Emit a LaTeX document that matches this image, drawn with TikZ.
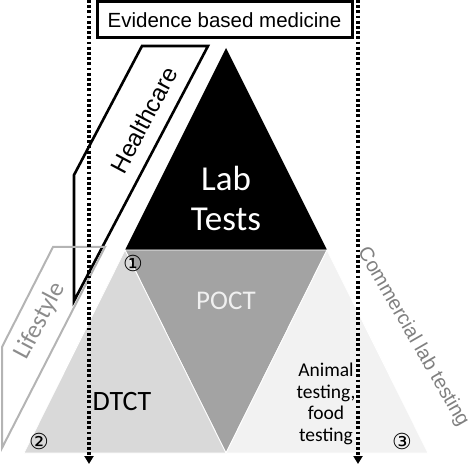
\documentclass[tikz,border=0pt]{standalone}
\usepackage{fontspec}
\setmainfont{Liberation Sans}
\newfontfamily\calib{Carlito}
\newfontfamily\djv{DejaVu Sans}
\usetikzlibrary{arrows.meta}
\definecolor{poctgray}{HTML}{A3A3A3}
\definecolor{dtctgray}{HTML}{D9D9D9}
\definecolor{animgray}{HTML}{F2F2F2}
\definecolor{lifegray}{HTML}{B4B4B4}
\definecolor{lifetext}{HTML}{8C8C8C}
\definecolor{commtext}{HTML}{808080}
\begin{document}
\begin{tikzpicture}[x=1pt,y=-1pt,
  tri/.style={draw=white,line width=0.8pt},
  dotarrow/.style={line width=3.2pt,dash pattern=on 2.8pt off 2.4pt,-{Triangle[width=9pt,length=8pt]}},
  circnum/.style={font=\djv\fontsize{22}{22}\selectfont,inner sep=0pt},
  band/.style={line width=2.6pt,line join=miter},
  lbl/.style={inner sep=0pt,align=center}]
\useasboundingbox (0,0) rectangle (474,465);
% triangles
\fill[black] (226,48) -- (125,250) -- (327,250) -- cycle;
\filldraw[tri,fill=poctgray] (125,250) -- (327,250) -- (226,453) -- cycle;
\filldraw[tri,fill=dtctgray] (125,250) -- (24,453) -- (226,453) -- cycle;
\filldraw[tri,fill=animgray] (327,250) -- (226,453) -- (428,453) -- cycle;
% bands
\draw[band,black] (142,46) -- (208,46) -- (74,301) -- (74,175) -- cycle;
\draw[band,lifegray,line width=2pt] (53,247) -- (105,247) -- (2,448) -- (2,347) -- cycle;
% evidence box
\node[draw,line width=3pt,minimum width=255pt,minimum height=36pt,inner sep=0pt,
  font=\fontsize{20.5}{24}\selectfont] (ebm) at (224.5,20) {Evidence based medicine};
% texts
\node[lbl,rotate=62,font=\fontsize{24}{28}\selectfont] (hc) at (144,120) {Healthcare};
\node[lbl,rotate=62,text=lifetext,font=\calib\fontsize{25}{28}\selectfont] (ls) at (40,321) {Lifestyle};
\node[lbl,rotate=-60,text=commtext,font=\fontsize{20}{24}\selectfont] (clt) at (413,337) {Commercial lab testing};
\node[lbl,text=white,font=\calib\fontsize{35}{40}\selectfont] (lab) at (226,198) {Lab\\Tests};
\node[lbl,text=white!94!black,font=\calib\fontsize{27}{30}\selectfont] (poct) at (226,301) {POCT};
\node[lbl,font=\calib\fontsize{28}{30}\selectfont] (dtct) at (122,402) {DTCT};
\node[lbl,font=\calib\fontsize{19.5}{21.5}\selectfont] (anim) at (326,404) {Animal\\testing,\\food\\testing};
\node[circnum] (c1) at (133,263) {①};
\node[circnum] (c2) at (39,441) {②};
\node[circnum] (c3) at (402,441) {③};
% dotted arrows
\coordinate (lt) at (89,0);
\coordinate (lb) at (89,464);
\coordinate (rt) at (358,0);
\coordinate (rb) at (358,464);
\draw[dotarrow] (lt) -- (lb);
\draw[dotarrow] (rt) -- (rb);
\end{tikzpicture}
\end{document}
